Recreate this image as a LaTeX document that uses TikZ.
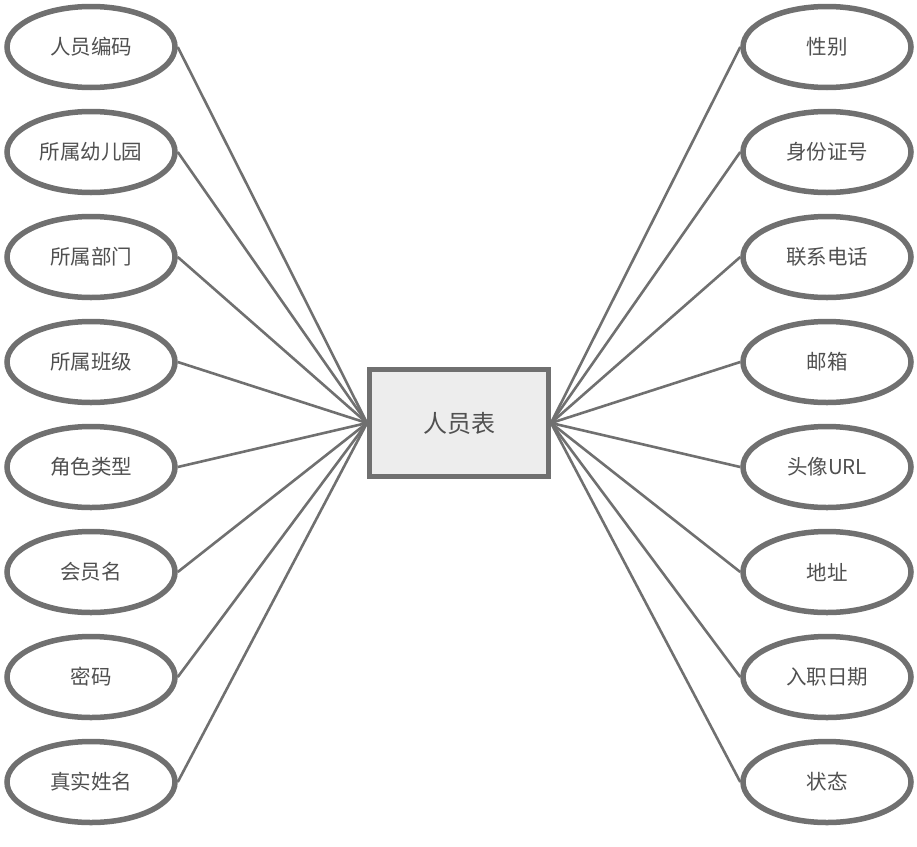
\documentclass[tikz,border=0pt]{standalone}
\usepackage{fontspec}
\setmainfont{Noto Sans CJK SC}
\usetikzlibrary{shapes.geometric}
\definecolor{edgegray}{HTML}{707070}
\definecolor{txtgray}{HTML}{505050}
\definecolor{boxfill}{HTML}{EDEDED}
\begin{document}
\begin{tikzpicture}[x=1pt,y=-1pt,
  attr/.style={ellipse,draw=edgegray,line width=5.5pt,fill=white,minimum width=168pt,minimum height=81pt,inner sep=0pt,text=txtgray,font=\fontsize{20.5}{24}\selectfont},
  entity/.style={rectangle,draw=edgegray,line width=5pt,fill=boxfill,minimum width=179pt,minimum height=107pt,inner sep=0pt,text=txtgray,font=\fontsize{24}{28}\selectfont},
  link/.style={draw=edgegray,line width=2.6pt}]
\useasboundingbox (0,0) rectangle (917,846);
\node[entity] (box) at (459,423) {人员表};
\foreach \i/\t in {0/人员编码,1/所属幼儿园,2/所属部门,3/所属班级,4/角色类型,5/会员名,6/密码,7/真实姓名}{
  \node[attr] (l\i) at (91,{47+105*\i}) {\t};
  \draw[link] (l\i.east) -- (box.west);
}
\foreach \i/\t in {0/性别,1/身份证号,2/联系电话,3/邮箱,4/头像URL,5/地址,6/入职日期,7/状态}{
  \node[attr] (r\i) at (827,{47+105*\i}) {\t};
  \draw[link] (box.east) -- (r\i.west);
}
\end{tikzpicture}
\end{document}
